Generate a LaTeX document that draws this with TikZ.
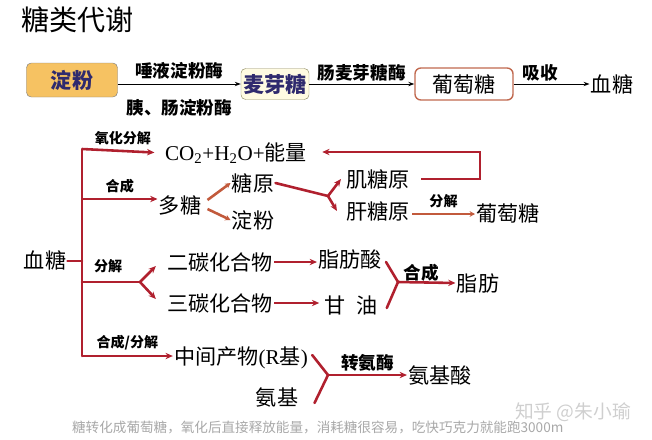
\documentclass[tikz,border=0pt]{standalone}
\usepackage{fontspec}
\setmainfont{Noto Sans CJK SC}
\newfontfamily\serifrm{Liberation Serif}
\usetikzlibrary{arrows.meta,positioning,calc}
\definecolor{lnred}{HTML}{B0202E}
\definecolor{lnbrown}{HTML}{C25A3C}
\definecolor{boxorg}{HTML}{F6C262}
\definecolor{boxyel}{HTML}{FFFBE2}
\definecolor{boxbrd}{HTML}{C0684E}
\definecolor{txtblue}{HTML}{2F2A6E}
\definecolor{wmgray}{HTML}{A8A8A8}
\definecolor{wmlight}{HTML}{CFCFCF}

\begin{document}
\begin{tikzpicture}[x=0.03cm, y=-0.03cm,
  big/.style={font=\fontsize{18}{21}\selectfont, inner sep=1pt},
  lab/.style={font=\bfseries\fontsize{15}{17}\selectfont, inner sep=1pt},
  slab/.style={font=\bfseries\fontsize{12}{14}\selectfont, inner sep=1pt},
  boxa/.style={big, rounded corners=4pt, text=txtblue, font=\bfseries\fontsize{18}{21}\selectfont},
  blk/.style={-{Stealth[length=1.8mm,width=1.3mm]}, line width=0.7pt},
  rarr/.style={-{Stealth[length=2.2mm,width=1.9mm]}, line width=2.2pt, draw=lnred},
  rln/.style={line width=2.2pt, draw=lnred, line cap=round},
  barr/.style={-{Stealth[length=1.6mm,width=1.7mm]}, line width=2.2pt, draw=lnbrown},
]
\useasboundingbox (0,0) rectangle (652,439);

% title
\node[font=\fontsize{24}{28}\selectfont, anchor=west] (title) at (17,20) {糖类代谢};

% digestion row
\node[boxa, draw=gray, fill=boxorg, minimum width=2.73cm, minimum height=1.02cm] (starch) at (72,80) {淀粉};
\node[boxa, draw=gray!70!olive, fill=boxyel, minimum width=2.04cm, minimum height=0.93cm] (maltose) at (275,84) {麦芽糖};
\node[big, draw=boxbrd, line width=1.2pt, rounded corners=5pt, minimum width=2.94cm, minimum height=0.96cm] (glu) at (464,84) {葡萄糖};
\node[big] (bloodtop) at (612,84) {血糖};
\draw[blk] (starch.east |- maltose) -- node[lab, above=3pt]{唾液淀粉酶} node[lab, below=12pt]{胰、肠淀粉酶} (maltose.west);
\draw[blk] (maltose.east) -- node[lab, above=1pt]{肠麦芽糖酶} (glu.west);
\draw[blk] (glu.east) -- node[lab, above=1pt, pos=0.35]{吸收} (bloodtop.west);

% blood sugar tree
\node[big] (blood) at (45,260) {血糖};
\coordinate (trunktop) at (82,149);
\coordinate (trunkbot) at (82,356);
\coordinate (trunkmid) at (82,261);
\draw[rln] (trunktop) -- (trunkbot);
\draw[rln] (blood.east |- trunkmid) -- (trunkmid);

% oxidation
\node[big] (co2) at (236,153) {{\serifrm CO\textsubscript{2}+H\textsubscript{2}O+}能量};
\draw[rarr, shorten >=8pt] (trunktop) -- node[slab, above=3pt]{氧化分解} (co2.west);

% polysaccharide
\node[big] (poly) at (180,205) {多糖};
\node[big] (glycogen) at (253,183) {糖原};
\node[big] (starch2) at (253,220) {淀粉};
\coordinate (br2) at (82,199);
\draw[rarr] (br2) -- node[slab, above=3pt]{合成} (poly.west |- br2);
\draw[barr] ($(poly.east)+(5,-5)$) -- (glycogen.west);
\draw[barr] ($(poly.east)+(5,4)$) -- (starch2.west);

\node[big] (muscle) at (378,179) {肌糖原};
\node[big] (liver) at (378,211) {肝糖原};
\node[big] (glu2) at (508,213) {葡萄糖};
\coordinate (forkg) at (328,196);
\draw[rln] (glycogen.east) -- (forkg);
\draw[rarr] (forkg) -- ($(muscle.west)+(-4,0)$);
\draw[rarr] (forkg) -- ($(liver.west)+(-8,0)$);
\draw[barr] ($(liver.east)+(1,3)$) -- node[slab, above=3pt]{分解} ($(glu2.west)+(0,1)$);
\coordinate (turn) at (480,152);
\draw[rarr] ($(muscle.east)+(10,0)$) -| (turn) -- ($(co2.east)+(14,-1)$);

% decomposition
\node[big] (c2) at (220,262) {二碳化合物};
\node[big] (c3) at (220,303) {三碳化合物};
\coordinate (br3) at (82,282);
\coordinate (fork3) at (140,282);
\draw[rln] (br3) -- node[slab, above=6pt, pos=0.45]{分解} (fork3);
\draw[rarr] (fork3) -- ($(c2.west)+(-10,4)$);
\draw[rarr] (fork3) -- ($(c3.west)+(-10,-4)$);
\node[big] (fattyacid) at (350,259) {脂肪酸};
\node[big] (glycerol) at (351,305) {甘\hspace{0.5em}油};
\draw[rarr] (c2.east) -- (fattyacid.west |- c2);
\draw[rarr] (c3.east) -- ($(glycerol.west)+(-4,-2)$);
\node[big] (fat) at (478,283) {脂肪};
\coordinate (fork4) at (398,282);
\draw[rln] ($(fattyacid.east)+(3,3)$) -- (fork4);
\draw[rln] ($(glycerol.east)+(8,3)$) -- (fork4);
\draw[rarr] (fork4) -- node[lab, above=-1pt, pos=0.4]{合成} (fat.west);

% transamination
\node[big] (inter) at (241,358) {中间产物{\serifrm (R}基{\serifrm )}};
\node[big] (amino) at (277,397) {氨基};
\node[big] (aa) at (440,375) {氨基酸};
\coordinate (br4) at (82,356);
\draw[rarr] (br4) -- node[slab, above=3pt]{合成/分解} (inter.west |- br4);
\coordinate (fork5) at (328,375);
\draw[rln] ($(inter.east)+(3,-3)$) -- (fork5);
\draw[rln] ($(amino.east)+(15,6)$) -- (fork5);
\draw[rarr] (fork5) -- node[lab, above=1pt]{转氨酶} (aa.west);

% footer
\node[font=\fontsize{16}{18}\selectfont, text=wmlight] (zhihu) at (573,412) {知乎 @朱小瑜};
\node[font=\fontsize{11.6}{14}\selectfont, text=wmgray, anchor=west] (note) at (68,427) {糖转化成葡萄糖，氧化后直接释放能量，消耗糖很容易，吃快巧克力就能跑3000m};
\end{tikzpicture}
\end{document}
